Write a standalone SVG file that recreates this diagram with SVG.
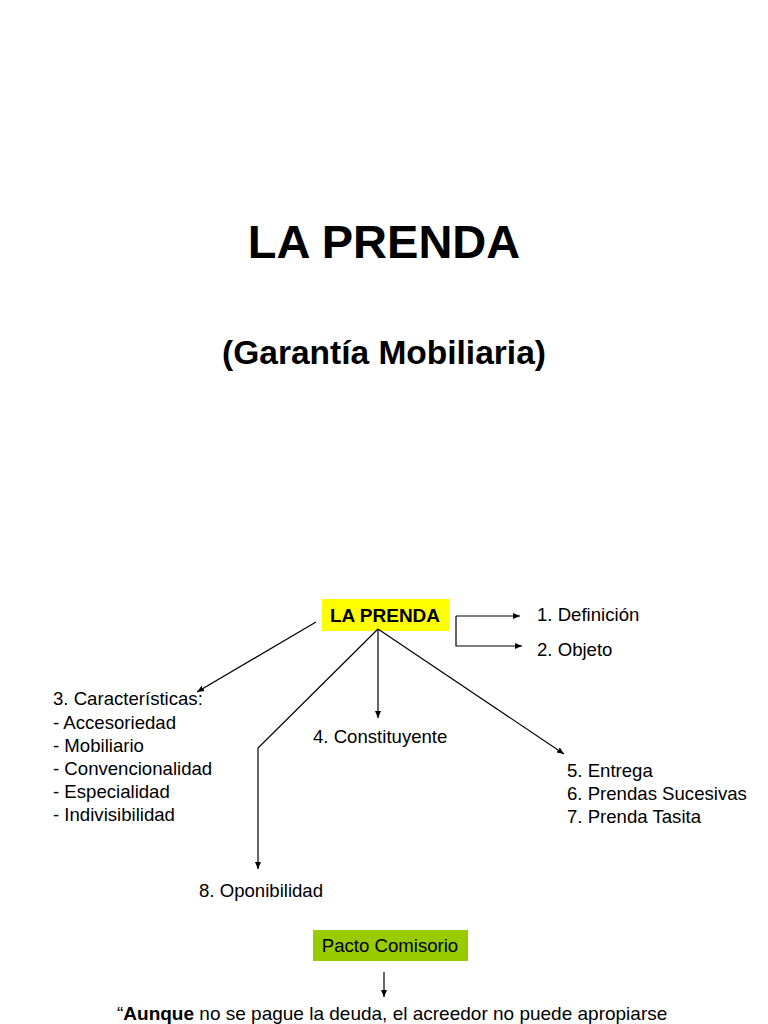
<svg xmlns="http://www.w3.org/2000/svg" width="768" height="1024" viewBox="0 0 768 1024">
<style>
text{font-family:"Liberation Sans",Arial,sans-serif;fill:#000}
.t{font-size:18.6px}
.c line,.c path{stroke:#000;stroke-width:1.2;fill:none}
</style>
<defs><marker id="a" markerWidth="8" markerHeight="8" refX="7" refY="4" orient="auto" markerUnits="userSpaceOnUse"><path d="M0,1 L7,4 L0,7 Z" fill="#000"/></marker></defs>
<rect width="768" height="1024" fill="#fff"/>
<g id="title"><text x="384" y="258" text-anchor="middle" font-size="47" font-weight="bold">LA PRENDA</text>
<text x="384" y="364" text-anchor="middle" font-size="33.5" font-weight="bold">(Garantía Mobiliaria)</text></g>
<g id="root"><rect x="322" y="599" width="127" height="32" fill="#ffff00"/><text x="385" y="622" text-anchor="middle" font-size="19" font-weight="bold">LA PRENDA</text></g>
<g class="c" id="connectors">
<path d="M456,616 H520" marker-end="url(#a)"/>
<path d="M456,616 V646 H522" marker-end="url(#a)"/>
<line x1="316" y1="622" x2="197" y2="692" marker-end="url(#a)"/>
<line x1="378" y1="629" x2="378" y2="718" marker-end="url(#a)"/>
<line x1="378" y1="629" x2="564" y2="754" marker-end="url(#a)"/>
<path d="M378,629 L258,748 V869" marker-end="url(#a)"/>
<line x1="384" y1="972" x2="384" y2="997" marker-end="url(#a)"/>
</g>
<g id="n1"><text class="t" x="537" y="621">1. Definición</text></g>
<g id="n2"><text class="t" x="537" y="656">2. Objeto</text></g>
<g id="n3"><text class="t" x="53" y="705">3. Características:</text><text class="t" x="53" y="729">- Accesoriedad</text><text class="t" x="53" y="752">- Mobiliario</text><text class="t" x="53" y="775">- Convencionalidad</text><text class="t" x="53" y="798">- Especialidad</text><text class="t" x="53" y="821">- Indivisibilidad</text></g>
<g id="n4"><text class="t" x="313" y="743">4. Constituyente</text></g>
<g id="n5"><text class="t" x="567" y="777">5. Entrega</text><text class="t" x="567" y="800">6. Prendas Sucesivas</text><text class="t" x="567" y="823">7. Prenda Tasita</text></g>
<g id="n8"><text class="t" x="199" y="897">8. Oponibilidad</text></g>
<g id="pacto"><rect x="313" y="930" width="155" height="31" fill="#99cc00"/><text class="t" x="390" y="952" text-anchor="middle">Pacto Comisorio</text></g>
<g id="quote"><text x="117" y="1020" font-size="19">“<tspan font-weight="bold">Aunque</tspan> no se pague la deuda, el acreedor no puede apropiarse</text></g>
</svg>
